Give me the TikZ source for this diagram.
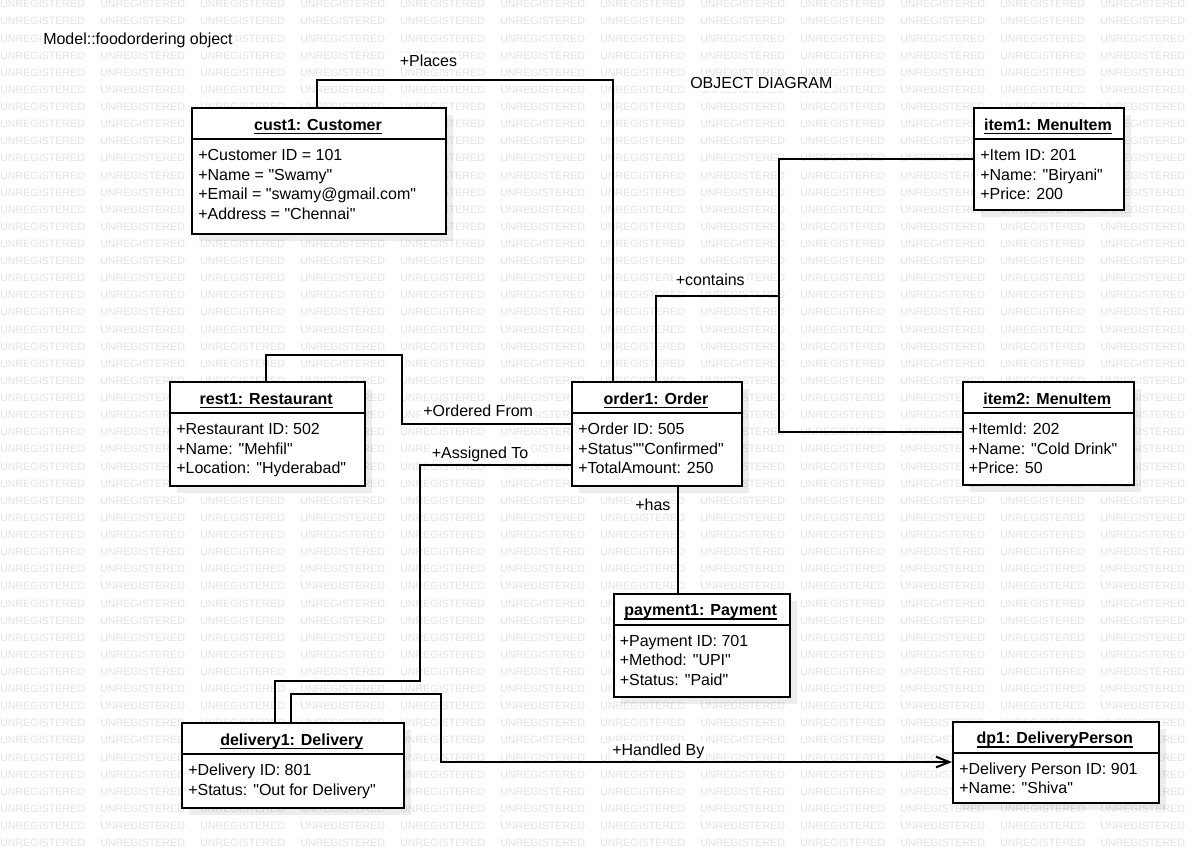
\documentclass[tikz,border=0pt]{standalone}
\usepackage{fontspec}
\setmainfont{Liberation Sans}[Ligatures=TeXOff]
\usetikzlibrary{arrows.meta}
\newcommand\ulbox[1]{\setbox0\hbox{#1}\rlap{\rule[-3pt]{\wd0}{0.9pt}}\box0}
\tikzset{
 wm/.style={text=black!11, font=\fontsize{8}{8}\selectfont, inner sep=0, anchor=base west},
 shadowc/.style={fill=black, fill opacity=0.07},
 objb/.style={draw=black, fill=white, line width=1.5pt},
 bline/.style={line width=1.5pt},
 titlet/.style={font=\bfseries\fontsize{12}{14}\selectfont, inner sep=0, anchor=base},
 attrt/.style={font=\fontsize{12}{14}\selectfont, inner sep=0, anchor=base west},
 conn/.style={line width=1.5pt},
 lbl/.style={font=\fontsize{12}{14}\selectfont, fill=white, inner sep=1.5pt, anchor=base west},
}
\newcommand\objbox[7]{%
  \fill[shadowc] (#2+8,#3+8) rectangle (#4+8,#5+8);
  \node[objb, anchor=north west, minimum width={(#4-#2)*0.75pt}, minimum height={(#5-#3)*0.75pt}] (#1) at (#2,#3) {};
  \draw[bline] (#2,#3+32) -- (#4,#3+32);
  \node[titlet] (#1-t) at ({(#2+#4)/2},{#3+23}) {\ulbox{#6}};
  \foreach \attr [count=\i] in {#7} {\node[attrt] (#1-\i) at ({#2+7},{#3+53.5+(\i-1)*19.7}) {\attr};}
}
\begin{document}
\begin{tikzpicture}[x=0.75pt,y=-0.75pt]
\useasboundingbox (0,0) rectangle (1200,849);
\fill[white] (0,0) rectangle (1200,849);
\begin{scope}
\clip (0,0) rectangle (1200,849);
\foreach \r in {0,...,49} {\foreach \c in {0,...,11} {\node[wm] (wm-\r-\c) at ({\c*100},{7.8+\r*17.12}) {UNREGISTERED};}}
\end{scope}

\objbox{cust1}{191}{107}{445}{232.5}{cust1: Customer}{+Customer ID = 101,+Name = "Swamy",+Email = "swamy@gmail.com",+Address = "Chennai"}
\objbox{item1}{973}{107}{1123}{209}{item1: MenuItem}{+Item ID: 201,+Name: "Biryani",+Price: 200}
\objbox{order1}{571}{381}{741}{484.5}{order1: Order}{+Order ID: 505,+Status""Confirmed",+TotalAmount: 250}
\objbox{rest1}{169}{381}{363.5}{484.5}{rest1: Restaurant}{+Restaurant ID: 502,+Name: "Mehfil",+Location: "Hyderabad"}
\objbox{item2}{961.5}{381}{1133}{483.5}{item2: MenuItem}{+ItemId: 202,+Name: "Cold Drink",+Price: 50}
\objbox{payment1}{612.5}{592.5}{789}{696}{payment1: Payment}{+Payment ID: 701,+Method: "UPI",+Status: "Paid"}
\objbox{delivery1}{181}{722}{402.5}{807}{delivery1: Delivery}{+Delivery ID: 801,+Status: "Out for Delivery"}
\objbox{dp1}{952}{720.5}{1157.5}{802}{dp1: DeliveryPerson}{+Delivery Person ID: 901,+Name: "Shiva"}

% connectors
\coordinate (pl1) at (317,80);
\coordinate (pl2) at (613,80);
\draw[conn] (cust1.north -| pl1) -- (pl1) -- (pl2) -- (order1.north -| pl2);

\coordinate (c1) at (779,159);
\coordinate (c2) at (779,432);
\coordinate (c3) at (779,296);
\coordinate (c4) at (656,296);
\draw[conn] (item1.west |- c1) -- (c1) -- (c2) -- (item2.west |- c2);
\draw[conn] (c3) -- (c4) -- (order1.north -| c4);

\coordinate (o1) at (266,355);
\coordinate (o2) at (402,355);
\coordinate (o3) at (402,424);
\draw[conn] (rest1.north -| o1) -- (o1) -- (o2) -- (o3) -- (order1.west |- o3);

\coordinate (a1) at (420,465);
\coordinate (a2) at (420,681);
\coordinate (a3) at (274.5,681);
\draw[conn] (order1.west |- a1) -- (a1) -- (a2) -- (a3) -- (delivery1.north -| a3);

\coordinate (h1) at (677.5,540);
\draw[conn] (order1.south -| h1) -- (payment1.north -| h1);

\coordinate (hb1) at (291,694);
\coordinate (hb2) at (441,694);
\coordinate (hb3) at (441,762);
\draw[conn, -{Straight Barb[length=10pt,width=8pt]}] (delivery1.north -| hb1) -- (hb1) -- (hb2) -- (hb3) -- (dp1.west |- hb3);

% labels
\node[lbl] (lplaces) at (397.5,66.7) {+Places};
\node[lbl] (lcontains) at (673.5,285) {+contains};
\node[lbl] (lordered) at (421,416.7) {+Ordered From};
\node[lbl] (lassigned) at (429.5,458) {+Assigned To};
\node[lbl] (lhas) at (633,510) {+has};
\node[lbl] (lhandled) at (610,755) {+Handled By};
\node[lbl] (lmodel) at (41,45) {Model::foodordering object};
\node[lbl] (ltitle) at (688,89) {OBJECT DIAGRAM};
\end{tikzpicture}
\end{document}
